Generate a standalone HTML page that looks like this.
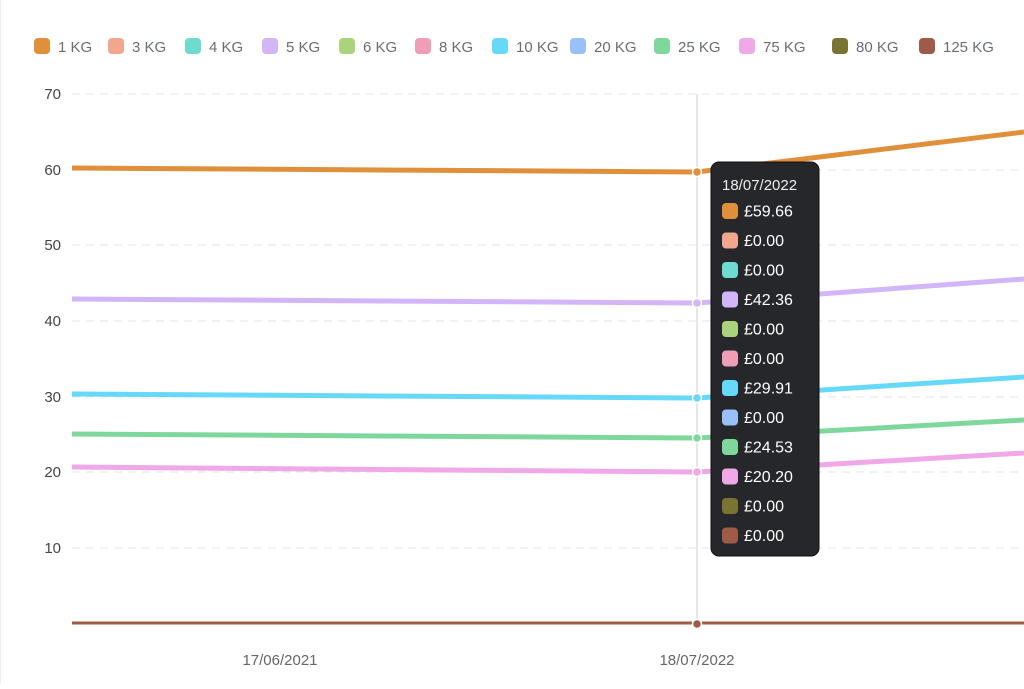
<!DOCTYPE html>
<html><head><meta charset="utf-8"><style>
body{margin:0;background:#fff;}
svg text{font-family:"Liberation Sans",sans-serif;}
</style></head><body>
<svg width="1024" height="684" xmlns="http://www.w3.org/2000/svg">
<rect x="0" y="0" width="1024" height="684" fill="#fff"/>
<line x1="0.5" y1="0" x2="0.5" y2="684" stroke="#eee"/>
<g font-size="15" fill="#6b6e78">
<g id="lg"></g>
</g>
<g stroke="#e6e6e6" stroke-dasharray="8,6" stroke-width="1">
<line x1="72" x2="1024" y1="94" y2="94"/><line x1="72" x2="1024" y1="170" y2="170"/>
<line x1="72" x2="1024" y1="245" y2="245"/><line x1="72" x2="1024" y1="321" y2="321"/>
<line x1="72" x2="1024" y1="397" y2="397"/><line x1="72" x2="1024" y1="472" y2="472"/>
<line x1="72" x2="1024" y1="548" y2="548"/>
</g>
<g font-size="15" fill="#444" text-anchor="end">
<text x="61" y="99">70</text><text x="61" y="175">60</text><text x="61" y="250">50</text>
<text x="61" y="326">40</text><text x="61" y="402">30</text><text x="61" y="477">20</text><text x="61" y="553">10</text>
</g>
<g font-size="15" fill="#666" text-anchor="middle">
<text x="280" y="665">17/06/2021</text><text x="697" y="665">18/07/2022</text>
</g>
<line x1="697" y1="94" x2="697" y2="624" stroke="#ccc"/>
<g fill="none" stroke-width="5" stroke-linejoin="round">
<polyline points="72,168 697,172 1024,132" stroke="#E0903A"/>
<polyline points="72,299 697,303 1024,279" stroke="#D3B6F8"/>
<polyline points="72,394 697,398 1024,377" stroke="#66D9F8"/>
<polyline points="72,434 697,438 1024,420" stroke="#7FD89B"/>
<polyline points="72,467 697,472 1024,453" stroke="#F0A8E8"/>
<polyline points="72,623 1024,623" stroke="#9E5B4A" stroke-width="3"/>
</g>
<g stroke="#fff" stroke-width="1.5">
<circle cx="697" cy="172" r="4.5" fill="#E0903A"/>
<circle cx="697" cy="303" r="4.5" fill="#D3B6F8"/>
<circle cx="697" cy="398" r="4.5" fill="#66D9F8"/>
<circle cx="697" cy="438" r="4.5" fill="#7FD89B"/>
<circle cx="697" cy="472" r="4.5" fill="#F0A8E8"/>
<circle cx="697" cy="624" r="4.5" fill="#9E5B4A"/>
</g>
<rect x="711" y="162" width="108" height="394" rx="8" fill="#26272b" stroke="#111"/>
<text x="722" y="190" font-size="15" fill="#eee">18/07/2022</text>
<g id="tt" font-size="16" fill="#fff"></g>
<script>
var c=["#E0903A","#F0A78E","#6DDBD0","#D3B6F8","#A9D47C","#F09EB8","#66D9F8","#99C0F8","#7FD89B","#F0A8E8","#7A7432","#9E5B4A"];
var n=["1 KG","3 KG","4 KG","5 KG","6 KG","8 KG","10 KG","20 KG","25 KG","75 KG","80 KG","125 KG"];
var xs=[34,108,185,262,339,415,492,570,654,739,832,919];
var v=["£59.66","£0.00","£0.00","£42.36","£0.00","£0.00","£29.91","£0.00","£24.53","£20.20","£0.00","£0.00"];
var ns="http://www.w3.org/2000/svg",lg=document.getElementById("lg"),tt=document.getElementById("tt");
function el(t,a,p,tx){var e=document.createElementNS(ns,t);for(var k in a)e.setAttribute(k,a[k]);if(tx)e.textContent=tx;p.appendChild(e);}
for(var i=0;i<12;i++){
el("rect",{x:xs[i],y:38,width:16,height:16,rx:4,fill:c[i]},lg);
el("text",{x:xs[i]+24,y:52},lg,n[i]);
var y=211+i*29.5;
el("rect",{x:722,y:y-8,width:16,height:16,rx:4,fill:c[i]},tt);
el("text",{x:744,y:y+5.5},tt,v[i]);
}
</script>
</svg>
</body></html>
